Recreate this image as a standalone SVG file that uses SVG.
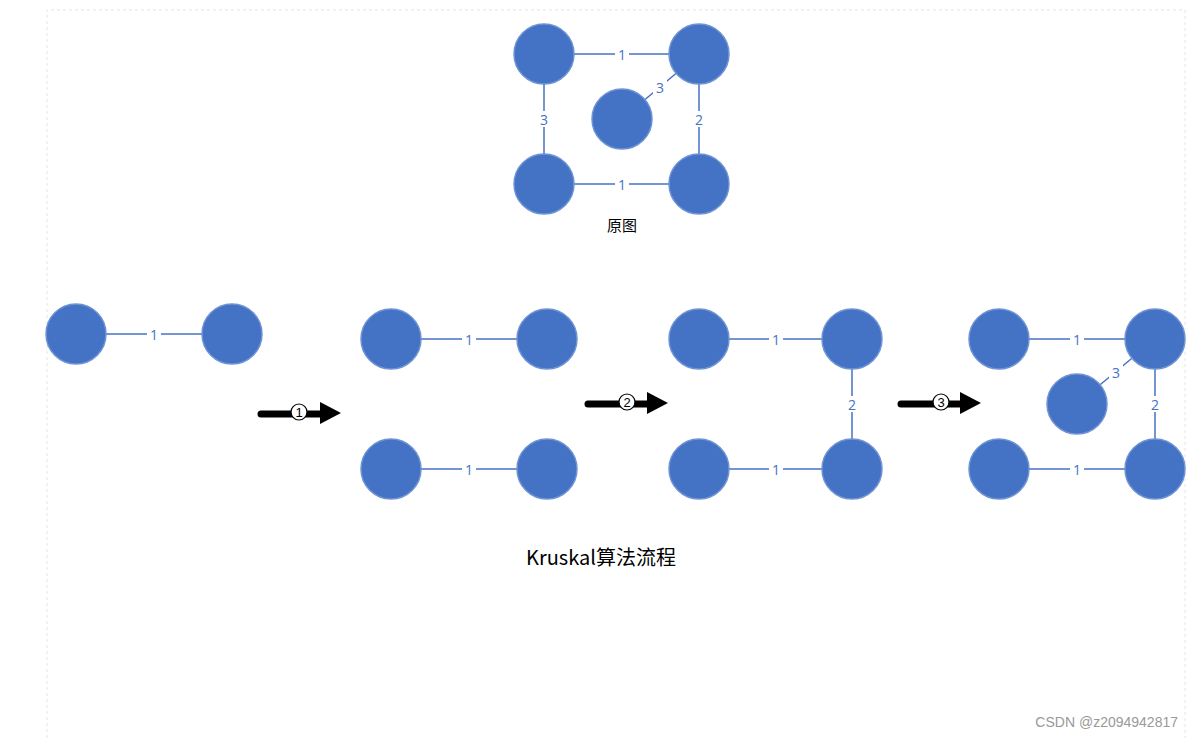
<svg xmlns="http://www.w3.org/2000/svg" width="1195" height="738" viewBox="0 0 1195 738">
<style>
.n{fill:#4472c4;stroke:#6f93d4;stroke-width:1.5}
.e{stroke:#4472c4;stroke-width:1.5;fill:none}
.l{font-family:"Open Sans","Liberation Sans",sans-serif;font-size:14px;fill:#4472c4;text-anchor:middle;dominant-baseline:central}
.lb{fill:#fff}
.ar{stroke:#000;stroke-width:7;stroke-linecap:round;fill:none}
.cc{fill:#fff;stroke:#000;stroke-width:1.2}
.c{font-family:"Liberation Sans",sans-serif;font-size:13px;text-anchor:middle;dominant-baseline:central;fill:#000}
</style>
<rect width="1195" height="738" fill="#fff"/>
<path d="M47,738V10H1185V738" fill="none" stroke="#e4e4e4" stroke-dasharray="3,3"/>
<g id="connectors">
<line class="e" x1="544" y1="54" x2="699" y2="54"/><line class="e" x1="544" y1="54" x2="544" y2="184"/><line class="e" x1="699" y1="54" x2="699" y2="184"/><line class="e" x1="544" y1="184" x2="699" y2="184"/><line class="e" x1="622" y1="119" x2="699" y2="54"/>
<line class="e" x1="76" y1="334" x2="232" y2="334"/>
<line class="e" x1="391" y1="339" x2="547" y2="339"/><line class="e" x1="391" y1="469" x2="547" y2="469"/>
<line class="e" x1="699" y1="339" x2="852" y2="339"/><line class="e" x1="699" y1="469" x2="852" y2="469"/><line class="e" x1="852" y1="339" x2="852" y2="469"/>
<line class="e" x1="999" y1="339" x2="1155" y2="339"/><line class="e" x1="999" y1="469" x2="1155" y2="469"/><line class="e" x1="1155" y1="339" x2="1155" y2="469"/><line class="e" x1="1077" y1="404" x2="1155" y2="339"/>
<g>
<rect class="lb" x="615" y="46" width="14" height="16"/><text class="l" x="622" y="54">1</text>
<rect class="lb" x="615" y="176" width="14" height="16"/><text class="l" x="622" y="184">1</text>
<rect class="lb" x="537" y="111" width="14" height="16"/><text class="l" x="544" y="119">3</text>
<rect class="lb" x="692" y="111" width="14" height="16"/><text class="l" x="699" y="119">2</text>
<rect class="lb" x="653" y="79" width="14" height="16"/><text class="l" x="660" y="87">3</text>
<rect class="lb" x="147" y="326" width="14" height="16"/><text class="l" x="154" y="334">1</text>
<rect class="lb" x="462" y="331" width="14" height="16"/><text class="l" x="469" y="339">1</text>
<rect class="lb" x="462" y="461" width="14" height="16"/><text class="l" x="469" y="469">1</text>
<rect class="lb" x="769" y="331" width="14" height="16"/><text class="l" x="776" y="339">1</text>
<rect class="lb" x="769" y="461" width="14" height="16"/><text class="l" x="776" y="469">1</text>
<rect class="lb" x="845" y="396" width="14" height="16"/><text class="l" x="852" y="404">2</text>
<rect class="lb" x="1070" y="331" width="14" height="16"/><text class="l" x="1077" y="339">1</text>
<rect class="lb" x="1070" y="461" width="14" height="16"/><text class="l" x="1077" y="469">1</text>
<rect class="lb" x="1148" y="396" width="14" height="16"/><text class="l" x="1155" y="404">2</text>
<rect class="lb" x="1109" y="364" width="14" height="16"/><text class="l" x="1116" y="372">3</text>
</g>
</g>
<g id="orig">
<circle class="n" cx="544" cy="54" r="30"/><circle class="n" cx="699" cy="54" r="30"/><circle class="n" cx="622" cy="119" r="30"/><circle class="n" cx="544" cy="184" r="30"/><circle class="n" cx="699" cy="184" r="30"/>
<text x="622" y="224" font-family="Noto Sans CJK SC,sans-serif" font-size="15" text-anchor="middle" dominant-baseline="central">原图</text>
</g>
<g id="s0"><circle class="n" cx="76" cy="334" r="30"/><circle class="n" cx="232" cy="334" r="30"/></g>
<g id="s1"><circle class="n" cx="391" cy="339" r="30"/><circle class="n" cx="547" cy="339" r="30"/><circle class="n" cx="391" cy="469" r="30"/><circle class="n" cx="547" cy="469" r="30"/></g>
<g id="s2"><circle class="n" cx="699" cy="339" r="30"/><circle class="n" cx="852" cy="339" r="30"/><circle class="n" cx="699" cy="469" r="30"/><circle class="n" cx="852" cy="469" r="30"/></g>
<g id="s3"><circle class="n" cx="999" cy="339" r="30"/><circle class="n" cx="1155" cy="339" r="30"/><circle class="n" cx="1077" cy="404" r="30"/><circle class="n" cx="999" cy="469" r="30"/><circle class="n" cx="1155" cy="469" r="30"/></g>
<g id="arrows">
<path class="ar" d="M261,414H322"/><polygon points="320,402 341,413 320,424"/><circle class="cc" cx="299" cy="412" r="8"/><text class="c" x="299" y="412">1</text>
<path class="ar" d="M588,404H649"/><polygon points="647,392 668,403 647,414"/><circle class="cc" cx="627" cy="402" r="8"/><text class="c" x="627" y="402">2</text>
<path class="ar" d="M901,404H962"/><polygon points="960,392 981,403 960,414"/><circle class="cc" cx="941" cy="402" r="8"/><text class="c" x="941" y="402">3</text>
</g>
<text x="601" y="556" font-family="Noto Sans CJK SC,sans-serif" font-size="20" text-anchor="middle" dominant-baseline="central">Kruskal算法流程</text>
<text x="1178" y="722" font-family="Liberation Sans,sans-serif" font-size="14" fill="#999" text-anchor="end" dominant-baseline="central">CSDN @z2094942817</text>
</svg>
